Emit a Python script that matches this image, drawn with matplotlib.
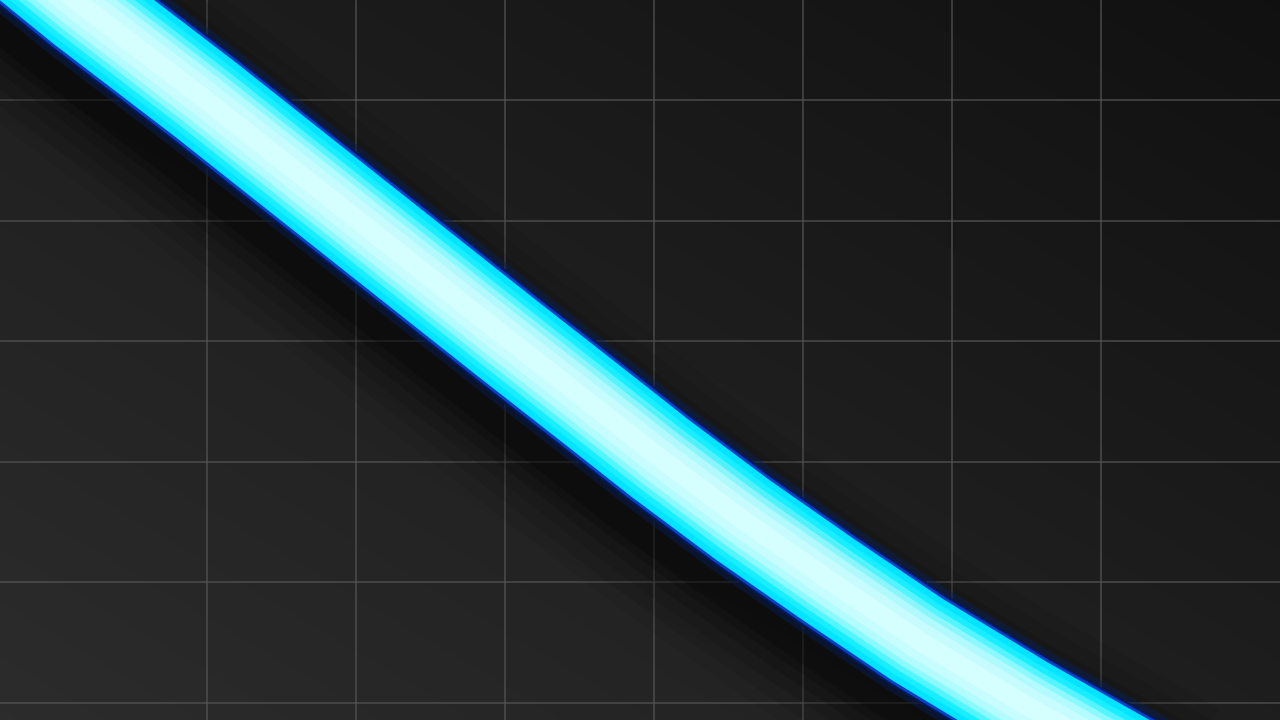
import numpy as np
import matplotlib
matplotlib.use("Agg")
import matplotlib.pyplot as plt
from matplotlib.path import Path
from matplotlib.patches import PathPatch
from matplotlib import transforms
from matplotlib.colors import to_rgba

# curve (grid units)
x_vals = [-0.6, 0.168, 0.993, 1.993, 3.020, 3.544, 4.047, 4.597, 5.174, 5.772, 6.470, 7.5]
y_vals = [7.55, 6.779, 6.000, 5.022, 4.018, 3.512, 3.023, 2.517, 2.020, 1.522, 1.000, 0.28]

x_grid = [1, 2, 3, 4, 5, 6, 7]
y_grid = [1, 2, 3, 4, 5, 6]

fig = plt.figure(figsize=(12.8, 7.2), dpi=100)
ax = fig.add_axes([0, 0, 1, 1])
ax.set_xlim(-0.389, 8.201)
ax.set_ylim(0.859, 6.829)

# background vignette
xf, yf = np.meshgrid(np.linspace(0, 1, 256), np.linspace(0, 1, 144))
val = 0.066 + 0.055 * (1 - xf) + 0.052 * yf
bg = np.dstack([val, val, val])
ax.imshow(bg, extent=(-0.389, 8.201, 0.859, 6.829), aspect="auto",
          origin="upper", zorder=0, interpolation="bilinear")

ax.set_xticks(x_grid)
ax.set_yticks(y_grid)
ax.grid(True, color="#565656", lw=1.1, alpha=0.8, zorder=1)
ax.tick_params(length=0, labelbottom=False, labelleft=False)
for s in ax.spines.values():
    s.set_visible(False)

curve = Path(np.column_stack([x_vals, y_vals]))


def tube(lw, color, alpha=1.0, z=3, transform=None):
    # near-transparent face keeps agg from cutting the thick stroke at the canvas edge
    p = PathPatch(curve, facecolor=(0, 0, 0, 0.002), edgecolor=to_rgba(color, alpha),
                  lw=lw, joinstyle="round", capstyle="butt", zorder=z,
                  transform=transform if transform is not None else ax.transData)
    ax.add_patch(p)


# soft dark shadow below-left of the tube
sh = transforms.offset_copy(ax.transData, fig=fig, x=-14, y=-22, units="dots")
for w, a in [(170, 0.05), (150, 0.07), (130, 0.09), (112, 0.12), (96, 0.16), (84, 0.22)]:
    tube(w, "black", a, z=2, transform=sh)

# neon layers
tube(84, "#06205a", 0.45, z=3)
tube(76, "#031858", 1.0, z=3)
tube(73, "#0a40c8", 1.0, z=4)
tube(69, "#00e4ff", 1.0, z=5)
for w, c in [(60, "#18eeff"), (52, "#55f5ff"), (44, "#8cf9ff"),
             (36, "#b2fbff"), (26, "#c8fdff"), (14, "#d4feff")]:
    tube(w, c, 1.0, z=6)

fig.savefig("out.png", dpi=100)
